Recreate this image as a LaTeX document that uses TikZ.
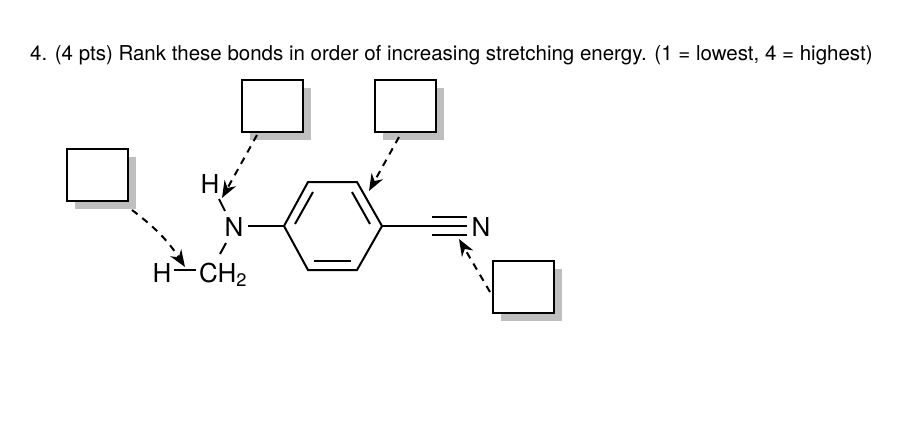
\documentclass[tikz,border=0pt]{standalone}
\usepackage{fontspec}
\setmainfont{TeX Gyre Heros}
\usetikzlibrary{arrows.meta}
\begin{document}
\begin{tikzpicture}[x=1pt,y=-1pt,
  ansbox/.style={draw,line width=2pt,fill=white,minimum width=61pt,minimum height=52pt,inner sep=0pt},
  shadowbox/.style={fill=black!25,minimum width=61pt,minimum height=52pt,inner sep=0pt},
  bond/.style={line width=2pt},
  arr/.style={line width=2pt,dash pattern=on 7pt off 6pt,-{Stealth[length=17pt,width=13pt]}},
  atom/.style={font=\fontsize{26}{26}\selectfont,inner sep=0pt}]
\useasboundingbox (0,0) rectangle (921,432);
\node[anchor=west,font=\fontsize{20.5}{20}\selectfont,inner sep=0pt] (title) at (30,55) {4. (4 pts) Rank these bonds in order of increasing stretching energy. (1 = lowest, 4 = highest)};
% boxes
\foreach \n/\x/\y in {A/272.5/106,B/405.5/106,C/97.5/174.5,D/523/286.5}{
  \node[shadowbox] at (\x+8,\y+8) {};
  \node[ansbox] (\n) at (\x,\y) {};
}
% ring
\coordinate (r1) at (284,226);
\coordinate (r2) at (308,182);
\coordinate (r3) at (357,182);
\coordinate (r4) at (382,226);
\coordinate (r5) at (357,270);
\coordinate (r6) at (308,270);
\draw[bond,line join=miter] (r1)--(r2)--(r3)--(r4)--(r5)--(r6)--cycle;
\draw[bond] (313,192)--(295,224);
\draw[bond] (352,192)--(370,224);
\draw[bond] (314,261)--(351,261);
% atoms
\node[atom] (N1) at (234,227) {N};
\node[atom] (H1) at (210,184) {H};
\node[atom,anchor=west] (C1) at (199,275) {CH\textsubscript{2}};
\node[atom] (H2) at (162,273) {H};
\node[atom] (N2) at (481,227) {N};
\draw[bond] (248,226) -- (r1);
\draw[bond] (219,199)--(225,211);
\draw[bond] (226,243)--(220,254);
\draw[bond] (174,270)--(196,270);
\draw[bond] (r4)--(467,226);
\draw[bond] (432,217)--(467,217);
\draw[bond] (432,235)--(467,235);
% arrows
\draw[arr] (257,135)--(222,198);
\draw[arr] (399,137)--(369,191);
\draw[arr] (132,210) to[bend left=10] (185,267);
\draw[arr] (490,292)--(459,239);
\end{tikzpicture}
\end{document}
